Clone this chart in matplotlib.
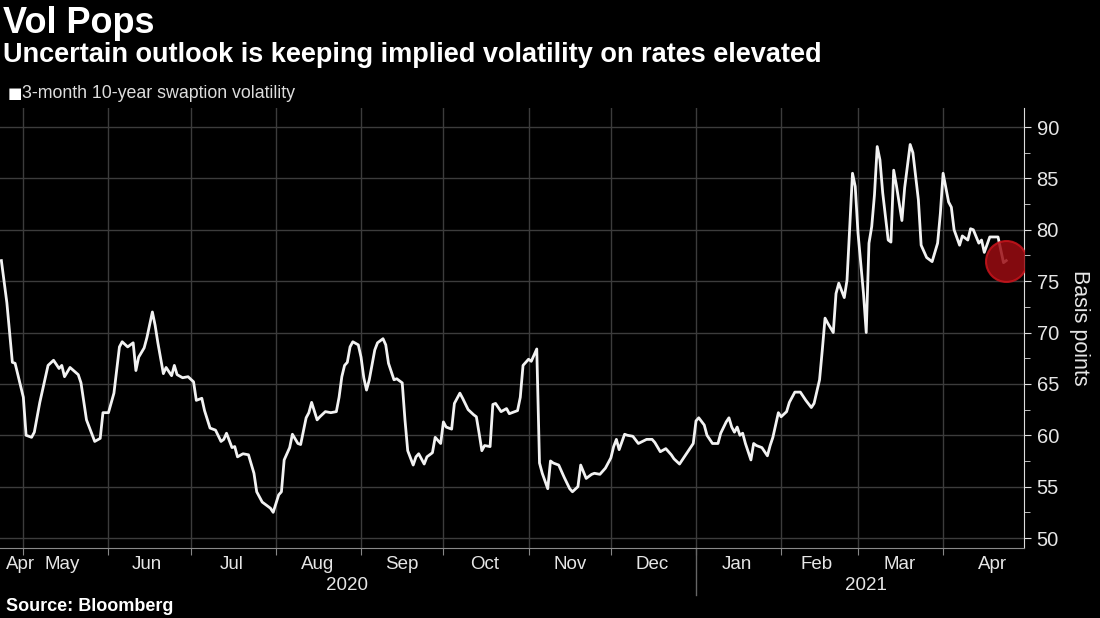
import numpy as np
import pandas as pd
import matplotlib
matplotlib.use("Agg")
import matplotlib.pyplot as plt
import matplotlib.dates as mdates
import matplotlib.transforms as mtransforms

plt.rcParams['font.family'] = ['Liberation Sans', 'DejaVu Sans']

# 3-month 10-year swaption volatility (basis points)
dates = [
    "2020-04-23", "2020-04-25", "2020-04-27", "2020-04-28", "2020-05-01", "2020-05-02",
    "2020-05-04", "2020-05-05", "2020-05-07", "2020-05-08", "2020-05-10", "2020-05-12",
    "2020-05-14", "2020-05-15", "2020-05-16", "2020-05-18", "2020-05-21", "2020-05-22",
    "2020-05-24", "2020-05-27", "2020-05-29", "2020-05-30", "2020-06-01", "2020-06-03",
    "2020-06-05", "2020-06-06", "2020-06-08", "2020-06-10", "2020-06-11", "2020-06-12",
    "2020-06-14", "2020-06-15", "2020-06-17", "2020-06-18", "2020-06-19", "2020-06-21",
    "2020-06-22", "2020-06-24", "2020-06-25", "2020-06-26", "2020-06-28", "2020-06-30",
    "2020-07-02", "2020-07-03", "2020-07-05", "2020-07-06", "2020-07-08", "2020-07-10",
    "2020-07-12", "2020-07-13", "2020-07-14", "2020-07-16", "2020-07-17", "2020-07-18",
    "2020-07-20", "2020-07-22", "2020-07-24", "2020-07-25", "2020-07-27", "2020-07-30",
    "2020-07-31", "2020-08-02", "2020-08-03", "2020-08-04", "2020-08-06", "2020-08-07",
    "2020-08-09", "2020-08-10", "2020-08-12", "2020-08-13", "2020-08-14", "2020-08-16",
    "2020-08-17", "2020-08-19", "2020-08-21", "2020-08-23", "2020-08-24", "2020-08-25",
    "2020-08-26", "2020-08-27", "2020-08-28", "2020-08-29", "2020-08-31", "2020-09-01",
    "2020-09-02", "2020-09-03", "2020-09-04", "2020-09-06", "2020-09-07", "2020-09-09",
    "2020-09-10", "2020-09-11", "2020-09-13", "2020-09-14", "2020-09-16", "2020-09-17",
    "2020-09-18", "2020-09-20", "2020-09-21", "2020-09-22", "2020-09-23", "2020-09-24",
    "2020-09-25", "2020-09-27", "2020-09-28", "2020-09-30", "2020-10-01", "2020-10-02",
    "2020-10-04", "2020-10-05", "2020-10-07", "2020-10-08", "2020-10-10", "2020-10-12",
    "2020-10-13", "2020-10-14", "2020-10-15", "2020-10-16", "2020-10-18", "2020-10-19",
    "2020-10-20", "2020-10-21", "2020-10-22", "2020-10-24", "2020-10-25", "2020-10-27",
    "2020-10-28", "2020-10-29", "2020-10-30", "2020-11-01", "2020-11-02", "2020-11-04",
    "2020-11-05", "2020-11-06", "2020-11-08", "2020-11-09", "2020-11-10", "2020-11-12",
    "2020-11-14", "2020-11-16", "2020-11-17", "2020-11-19", "2020-11-20", "2020-11-22",
    "2020-11-24", "2020-11-25", "2020-11-27", "2020-11-29", "2020-12-01", "2020-12-02",
    "2020-12-03", "2020-12-04", "2020-12-06", "2020-12-07", "2020-12-09", "2020-12-11",
    "2020-12-14", "2020-12-16", "2020-12-17", "2020-12-19", "2020-12-21", "2020-12-23",
    "2020-12-24", "2020-12-26", "2020-12-27", "2020-12-29", "2020-12-31", "2021-01-01",
    "2021-01-02", "2021-01-04", "2021-01-05", "2021-01-07", "2021-01-09", "2021-01-10",
    "2021-01-12", "2021-01-13", "2021-01-14", "2021-01-15", "2021-01-16", "2021-01-17",
    "2021-01-18", "2021-01-19", "2021-01-21", "2021-01-22", "2021-01-23", "2021-01-25",
    "2021-01-27", "2021-01-28", "2021-01-29", "2021-01-31", "2021-02-01", "2021-02-03",
    "2021-02-04", "2021-02-06", "2021-02-08", "2021-02-10", "2021-02-12", "2021-02-13",
    "2021-02-15", "2021-02-16", "2021-02-17", "2021-02-18", "2021-02-20", "2021-02-21",
    "2021-02-22", "2021-02-24", "2021-02-25", "2021-02-27", "2021-02-28", "2021-03-01",
    "2021-03-03", "2021-03-04", "2021-03-05", "2021-03-06", "2021-03-07", "2021-03-08",
    "2021-03-09", "2021-03-10", "2021-03-12", "2021-03-13", "2021-03-14", "2021-03-15",
    "2021-03-17", "2021-03-18", "2021-03-20", "2021-03-21", "2021-03-23", "2021-03-24",
    "2021-03-26", "2021-03-28", "2021-03-30", "2021-03-31", "2021-04-01", "2021-04-03",
    "2021-04-04", "2021-04-05", "2021-04-07", "2021-04-08", "2021-04-10", "2021-04-11",
    "2021-04-12", "2021-04-14", "2021-04-15", "2021-04-16", "2021-04-18", "2021-04-19",
    "2021-04-21", "2021-04-23", "2021-04-24",
]
vol = [
    77.0, 72.9, 67.1, 67.0, 63.7, 60.0,
    59.8, 60.3, 63.2, 64.4, 66.8, 67.3,
    66.5, 66.8, 65.7, 66.6, 65.9, 65.1,
    61.5, 59.4, 59.7, 62.2, 62.2, 64.1,
    68.6, 69.1, 68.6, 69.0, 66.3, 67.6,
    68.5, 69.5, 72.0, 70.7, 69.0, 66.0,
    66.6, 65.8, 66.8, 65.9, 65.6, 65.7,
    65.2, 63.4, 63.6, 62.4, 60.7, 60.5,
    59.4, 59.6, 60.2, 58.8, 58.9, 57.9,
    58.2, 58.1, 56.3, 54.5, 53.5, 52.9,
    52.5, 54.2, 54.5, 57.6, 58.8, 60.1,
    59.2, 59.1, 61.7, 62.2, 63.2, 61.5,
    61.8, 62.3, 62.2, 62.3, 63.7, 65.7,
    66.8, 67.1, 68.6, 69.1, 68.8, 67.6,
    65.6, 64.4, 65.4, 68.3, 69.0, 69.4,
    68.8, 67.0, 65.4, 65.5, 65.1, 61.5,
    58.5, 57.1, 57.9, 58.2, 57.7, 57.2,
    57.9, 58.3, 59.8, 59.2, 61.3, 60.8,
    60.6, 63.1, 64.1, 63.6, 62.5, 62.0,
    61.8, 60.2, 58.5, 59.0, 58.9, 63.0,
    63.1, 62.7, 62.3, 62.6, 62.1, 62.3,
    62.4, 63.7, 66.8, 67.4, 67.2, 68.4,
    57.3, 56.3, 54.8, 57.5, 57.3, 57.1,
    55.9, 54.8, 54.5, 55.0, 57.1, 55.8,
    56.2, 56.3, 56.2, 56.8, 57.8, 58.9,
    59.6, 58.6, 60.1, 60.0, 59.9, 59.2,
    59.6, 59.6, 59.3, 58.4, 58.7, 58.1,
    57.7, 57.2, 57.6, 58.4, 59.2, 61.4,
    61.7, 61.0, 60.0, 59.2, 59.2, 60.2,
    61.3, 61.7, 60.8, 60.3, 60.8, 60.0,
    60.2, 59.2, 57.6, 59.2, 59.0, 58.8,
    58.0, 59.0, 59.8, 62.2, 61.8, 62.3,
    63.2, 64.2, 64.2, 63.4, 62.7, 63.1,
    65.4, 68.3, 71.4, 70.9, 70.0, 73.8,
    74.8, 73.4, 75.1, 85.5, 84.2, 79.7,
    73.8, 70.0, 78.7, 80.3, 83.4, 88.1,
    86.8, 83.6, 79.0, 78.8, 85.8, 84.3,
    80.9, 84.1, 88.3, 87.5, 82.9, 78.5,
    77.3, 76.9, 78.7, 81.6, 85.5, 82.7,
    82.2, 80.0, 78.5, 79.4, 79.0, 80.1,
    80.0, 78.7, 79.0, 77.8, 79.3, 79.3,
    79.3, 76.8, 77.0,
]

month_labels = ["Apr", "May", "Jun", "Jul", "Aug", "Sep", "Oct", "Nov", "Dec",
                "Jan", "Feb", "Mar", "Apr"]
month_label_dates = ["2020-04-30", "2020-05-15", "2020-06-15", "2020-07-16",
                     "2020-08-16", "2020-09-16", "2020-10-16", "2020-11-16",
                     "2020-12-16", "2021-01-16", "2021-02-14", "2021-03-16",
                     "2021-04-19"]
year_labels = ["2020", "2021"]
year_label_dates = ["2020-08-27", "2021-03-04"]
y_ticks = [50, 55, 60, 65, 70, 75, 80, 85, 90]

x = pd.to_datetime(dates)

fig = plt.figure(figsize=(11, 6.18), dpi=100, facecolor="black")
ax = fig.add_axes([0.0, 0.1133, 0.931, 0.7119])
ax.set_facecolor("black")

ax.plot(x, vol, color="#f2f2f2", lw=2.0, zorder=3, solid_joinstyle="round")
ax.plot(x[-1], vol[-1], "o", ms=29.5, mfc="#9b0c12", mec="#c8141c",
        mew=1.5, alpha=0.85, zorder=4)

ax.set_xlim(pd.Timestamp("2020-04-22 12:00"), pd.Timestamp("2021-04-30 12:00"))
ax.set_ylim(49.03, 91.85)

# month boundaries: grid + small ticks; labels sit mid-month
ax.xaxis.remove_overlapping_locs = False
ax.xaxis.set_major_locator(mdates.MonthLocator())
ax.xaxis.set_major_formatter(plt.NullFormatter())
ax.set_xticks(pd.to_datetime(month_label_dates), minor=True)
ax.set_xticklabels(month_labels, minor=True)
ax.tick_params(axis="x", which="major", length=5, color="#888888", direction="out")
ax.tick_params(axis="x", which="minor", length=0, pad=6, labelsize=13.5,
               labelcolor="#e6e6e6")

ax.yaxis.tick_right()
ax.yaxis.set_label_position("right")
ax.set_yticks(y_ticks)
ax.set_yticks(np.arange(52.5, 91, 5), minor=True)
ax.tick_params(axis="y", which="major", length=5, color="#dddddd", pad=4,
               labelsize=14.5, labelcolor="#e6e6e6")
ax.tick_params(axis="y", which="minor", length=4, color="#dddddd")
ax.set_ylabel("Basis points", rotation=270, labelpad=22, fontsize=15.5, color="#e6e6e6")

ax.grid(True, which="major", color="#3c3c3c", lw=1.0, zorder=0)

for s in ["left", "top"]:
    ax.spines[s].set_visible(False)
ax.spines["right"].set_color("#dddddd")
ax.spines["bottom"].set_color("#8a8a8a")

# year row
trans = mtransforms.blended_transform_factory(ax.transData, ax.transAxes)
for lab, d in zip(year_labels, year_label_dates):
    ax.text(pd.Timestamp(d), -0.085, lab, transform=trans, ha="center", va="center",
            fontsize=13.5, color="#e6e6e6")
ax.plot([pd.Timestamp("2021-01-01")] * 2, [0, -0.107], transform=trans,
        color="#666666", lw=1, clip_on=False)

fig.text(0.003, 0.962, "Vol Pops", fontsize=26, fontweight="bold", color="white",
         va="center", ha="left")
fig.text(0.003, 0.911, "Uncertain outlook is keeping implied volatility on rates elevated",
         fontsize=19.5, fontweight="bold", color="white", va="center", ha="left")
fig.text(0.007, 0.849, "\u25A0", fontsize=11, color="white", va="center", ha="left",
         family="DejaVu Sans")
fig.text(0.020, 0.849, "3-month 10-year swaption volatility", fontsize=12.8,
         color="#dddddd", va="center", ha="left")
fig.text(0.005, 0.018, "Source: Bloomberg", fontsize=13, fontweight="bold",
         color="white", va="center", ha="left")

fig.savefig("out.png", dpi=100, facecolor="black")
